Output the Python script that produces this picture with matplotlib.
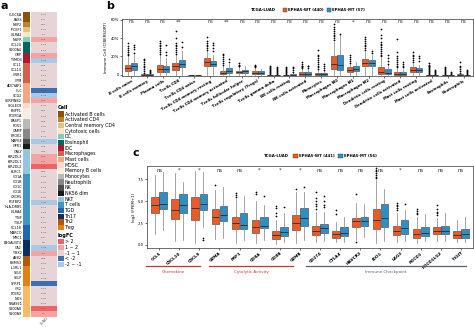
import numpy as np
import matplotlib
matplotlib.use("Agg")
import matplotlib.pyplot as plt
from matplotlib.patches import Rectangle
from matplotlib.transforms import blended_transform_factory

W, H = 474, 327
ORANGE = "#EC5B24"
BLUE = "#2E8FC4"

# ── panel a: marker genes, cell type and logFC ──────────────────────────────
genes = ["CLEC6A", "FAXS", "NUP2", "IPCEF1", "LILRA2", "NGFR", "CCL24", "S100A4",
         "GRP", "TIMD4", "CCL1", "CCL14", "CNR1", "CPM", "ADCYAP1", "CLC", "SCG2",
         "SERPINB2", "SIGLEC8", "ENPP1", "FCER1A", "BASP1", "FCN1", "CAMP", "PROK2",
         "MAPK4", "GPR1", "GNLY", "KIR2DL3", "KIR2DL1", "KIR2DL2", "KLRC1", "CD1A",
         "CD1B", "CD1C", "CD1E", "CXCR5", "FGFBP2", "HLA-DRB5", "LILRA4", "TNF",
         "TSLP", "CCL18", "MARCO", "MRC1", "B4GALNT4", "CA2", "YBX2", "ASB2", "RBMS3",
         "IL1RL1", "SELE", "SELP", "SFRP1", "CR2", "FCER2", "NOS", "RNASE1",
         "S100A8", "S100A9"]
gene_cell = (["Activated B cells"] * 2 + ["Activated CD4", "Central memory CD4",
             "Cytotoxic cells", "DC"] + ["Eosinophil"] * 2 + ["iDC"] * 2
             + ["Macrophages"] * 4 + ["Mast cells"] * 4 + ["MDSC"]
             + ["Memory B cells"] * 2 + ["Monocytes"] * 2 + ["Neutrophils"] * 2
             + ["NK", "NK56 dim"] + ["NKT"] * 5 + ["T cells"] * 10 + ["TGD"] * 3
             + ["Th17"] * 3 + ["Th2"] * 2 + ["Treg"] * 4 + ["Tem"] * 6)
logfc = [-0.76, -0.8, 0.81, -0.92, 0.9, 1.16, -0.94, -0.93, 1.36, -1.03,
         0.85, -0.74, -0.87, -0.95, 0.75, -2.35, -1.76, 1.92, -0.97, 0.81,
         -0.97, 0.85, -0.94, 0.92, -0.74, -1.2, 0.99, 0.89, 1.56, 1.51,
         2.18, 0.86, -0.86, -0.94, -0.94, -0.97, -0.93, -1.45, -0.77, -0.86,
         -0.8, -0.94, -0.86, -0.98, -0.8, 0.8, -1.03, 1.3, 0.88, -0.95,
         0.77, -0.71, -0.98, -2.74, -0.86, -0.86, -0.93, -0.93, 2.07, 1.2]

cell_types = ["Activated B cells", "Activated CD4", "Central memory CD4",
              "Cytotoxic cells", "DC", "Eosinophil", "iDC", "Macrophages",
              "Mast cells", "MDSC", "Memory B cells", "Monocytes", "Neutrophils",
              "NK", "NK56 dim", "NKT", "T cells", "TGD", "Th17", "Th2", "Treg"]
cell_colors = {"Activated B cells": "#8C510A", "Activated CD4": "#BF812D",
               "Central memory CD4": "#DFC27D", "Cytotoxic cells": "#F6E8C3",
               "DC": "#80CDC1", "Eosinophil": "#01665E", "iDC": "#B2182B",
               "Macrophages": "#D6604D", "Mast cells": "#F4A582",
               "MDSC": "#FDDBC7", "Memory B cells": "#FBEBE0",
               "Monocytes": "#BABABA", "Neutrophils": "#878787", "NK": "#4D4D4D",
               "NK56 dim": "#1A1A1A", "NKT": "#92C5DE", "T cells": "#4393C3",
               "TGD": "#2166AC", "Th17": "#053061", "Th2": "#B35806",
               "Treg": "#E08214", "Tem": "#FDB863"}
fc_bins = ["> 2", "1 ~ 2", "-1 ~ 1", "< -2", "-2 ~ -1"]
fc_colors = {"> 2": "#EE6464", "1 ~ 2": "#F4A3A3", "-1 ~ 1": "#E6D4D7",
             "< -2": "#3B6FB1", "-2 ~ -1": "#A9C8E6"}


def fc_bin(v):
    if v > 2:
        return "> 2"
    if v > 1:
        return "1 ~ 2"
    if v >= -1:
        return "-1 ~ 1"
    if v < -2:
        return "< -2"
    return "-2 ~ -1"


# ── panel b: CIBERSORT fractions (%) per group ──────────────────────────────
b_cells = ["B cells naive", "B cells memory", "Plasma cells", "T cells CD8",
           "T cells CD4 naive", "T cells CD4 memory resting",
           "T cells CD4 memory activated", "T cells follicular helper",
           "T cells regulatory (Tregs)", "T cells gamma delta", "NK cells resting",
           "NK cells activated", "Monocytes", "Macrophages M0", "Macrophages M1",
           "Macrophages M2", "Dendritic cells resting", "Dendritic cells activated",
           "Mast cells resting", "Mast cells activated", "Eosinophils", "Neutrophils"]
b_sig = ["ns", "ns", "ns", "**", "", "ns", "**", "ns", "ns", "ns", "ns",
         "ns", "ns", "ns", "*", "ns", "ns", "ns", "ns", "ns", "ns", "ns"]
b_wt_q1 = [4, 0, 3, 5, 0, 10, 0.5, 2, 1, 0, 0, 0, 0, 6, 3, 10, 1, 0, 3, 0, 0, 0]
b_wt_med = [7, 0, 6, 9, 0, 14, 2, 3, 2, 0, 0, 1, 0.5, 12, 5, 13, 3, 1, 5, 0, 0, 0]
b_wt_q3 = [11, 0.5, 11, 13, 0, 18, 4, 4.5, 3.5, 0, 0, 3, 2, 20, 8, 17, 8, 3, 8, 0, 0, 1]
b_wt_lo = [0] * 22
b_wt_hi = [20, 1, 22, 22, 0, 26, 10, 8, 7, 0, 0, 6, 5, 36, 12, 25, 18, 7, 12, 0, 0, 2]
b_wt_fl = [[21, 23, 25, 27, 29, 31, 35], [2, 4, 6, 8, 10, 12, 14, 16, 17],
           [23, 25, 27, 29, 31, 33, 35, 37], [23, 25, 27, 29, 31, 33, 35, 40, 48],
           [], [27, 29, 31, 33, 35, 37, 41], [11, 13, 15, 17, 19, 21, 23],
           [9, 10, 11, 13], [8, 9, 10, 11], [1, 2, 3, 4, 5, 6, 7, 8, 9],
           [1, 2, 3, 4, 5, 6, 7, 8], [7, 8, 9, 10, 12, 14],
           [6, 8, 10, 12, 14, 16, 18, 20, 22, 27],
           [38, 40, 42, 44, 46, 48, 50, 52, 56], [13, 15, 17, 19, 21],
           [27, 29, 31, 33, 35, 37, 39, 41],
           [20, 22, 24, 26, 28, 30, 32, 34, 36, 40, 44, 50],
           [8, 10, 12, 14, 16, 18, 20, 25, 39], [14, 16, 18, 20, 22, 25],
           [1, 2, 3, 4, 5, 6, 7, 8, 9, 10, 11, 13], [1, 2, 3, 4, 5, 6, 7, 8],
           [2, 4, 6, 8, 10, 14]]
b_mt_q1 = [5, 0, 3, 8, 0, 9, 2, 2, 1, 0, 0, 0, 0, 5, 4, 10, 0.5, 0, 3, 0, 0, 0]
b_mt_med = [9, 0, 6, 12, 0, 12, 4, 3.5, 2, 0, 0, 1, 0.5, 11, 6, 13, 2, 1, 5, 0, 0, 0]
b_mt_q3 = [13, 1, 10, 16, 0, 15, 7, 5, 3.5, 0, 1, 3, 2, 22, 10, 16, 6, 3, 7, 0, 0, 0]
b_mt_lo = [0] * 22
b_mt_hi = [22, 2, 18, 26, 0, 22, 12, 9, 6, 0, 2, 6, 4, 44, 14, 22, 11, 6, 11, 0, 0, 0]
b_mt_fl = [[24, 28, 30, 32], [2, 3, 4, 5], [21, 25, 32], [30, 36], [],
           [26, 29, 32, 35], [14, 17], [], [], [1, 2, 3, 4, 5, 6, 7, 8],
           [3, 5, 7, 8], [7, 9, 10], [5, 7, 9, 12], [45], [], [24, 26],
           [12, 15, 18, 22], [8, 10, 12, 14], [15, 18, 20], [1, 2, 3, 4, 5],
           [1, 2, 3], [1, 2, 3, 4, 5]]

# ── panel c: log2(FPKM+1) of immune genes ───────────────────────────────────
c_genes = ["CCL5", "CXCL10", "CXCL9", "GZMA", "PRF1", "CD8A", "CD8B", "GZMB",
           "CD274", "CTLA4", "HAVCR2", "IDO1", "LAG3", "PDCD1", "PDCD1LG2", "TIGIT"]
c_sig = ["ns", "*", "*", "ns", "ns", "*", "*", "*", "ns", "ns", "ns", "ns",
         "*", "ns", "ns", "ns"]
c_wt_q1 = [3.7, 3.0, 2.8, 2.4, 1.8, 1.4, 0.7, 1.7, 1.1, 0.8, 2.1, 1.8, 1.1, 0.8, 1.2, 0.8]
c_wt_med = [4.6, 4.0, 4.2, 3.2, 2.5, 2.1, 1.1, 2.5, 1.6, 1.3, 2.7, 2.8, 1.6, 1.2, 1.6, 1.1]
c_wt_q3 = [5.5, 5.3, 5.5, 4.1, 3.2, 2.9, 1.6, 3.4, 2.2, 1.6, 3.1, 4.1, 2.2, 1.8, 2.1, 1.6]
c_wt_lo = [1.2, 0.4, 0.2, 0.7, 0.2, 0.2, 0.1, 0.2, 0.3, 0.3, 0.6, 0.2, 0.3, 0.2, 0.4, 0.3]
c_wt_hi = [8.0, 8.2, 8.5, 6.3, 5.2, 5.0, 2.9, 6.0, 3.8, 2.6, 4.8, 7.4, 3.7, 3.2, 3.1, 2.9]
c_wt_fl = [[], [], [], [6.9], [5.5, 5.7, 5.9], [5.8, 6.1], [3.3, 3.6, 4.2, 4.5],
           [6.4], [4.1, 4.4, 4.7, 5.0, 5.4, 6.0], [3.5, 4.0], [0.3, 5.8],
           [7.6, 7.8, 8.0, 8.2, 8.4, 8.6, 8.8], [4.0, 4.2, 4.4, 4.6, 4.8],
           [3.5, 3.7, 3.9, 4.1], [3.4, 3.6, 3.8, 4.1, 4.6], []]
c_mt_q1 = [4.1, 3.7, 4.0, 2.7, 1.8, 1.9, 1.0, 2.2, 1.4, 1.0, 2.2, 2.0, 1.3, 1.0, 1.2, 0.8]
c_mt_med = [4.7, 4.6, 4.7, 3.4, 2.3, 2.2, 1.5, 3.1, 1.9, 1.4, 2.7, 3.1, 1.9, 1.4, 1.6, 1.2]
c_mt_q3 = [6.0, 5.8, 5.8, 4.4, 3.6, 3.2, 2.1, 4.2, 2.4, 2.1, 3.2, 4.7, 2.8, 2.0, 2.2, 1.8]
c_mt_lo = [1.7, 0.6, 2.0, 0.8, 0.6, 0.6, 0.3, 0.6, 0.4, 0.3, 0.9, 0.4, 0.5, 0.4, 0.5, 0.3]
c_mt_hi = [8.3, 7.2, 8.3, 6.6, 5.6, 4.6, 3.6, 6.0, 3.8, 3.2, 4.7, 6.4, 4.0, 3.5, 3.6, 3.2]
c_mt_fl = [[], [], [0.6, 0.75], [], [], [5.6], [4.3], [6.6], [4.3, 4.6, 5.0, 5.6],
           [], [], [], [4.7], [], [], []]

c_groups = ["Chemokine", "Cytolytic Activity", "Immune Checkpoint"]
c_group_span = [(0.35, 3.05), (3.5, 7.65), (8.3, 16.25)]
c_group_color = ["#C0392B", "#C0392B", "#5A6270"]


def px_axes(fig, x0, y0, x1, y1):
    return fig.add_axes([x0 / W, 1 - y1 / H, (x1 - x0) / W, (y1 - y0) / H])


def stats(q1, med, q3, lo, hi, fl):
    return [dict(q1=a, med=b, q3=c, whislo=d, whishi=e, fliers=f)
            for a, b, c, d, e, f in zip(q1, med, q3, lo, hi, fl)]


def draw_boxes(ax, st, pos, color, width):
    ax.bxp(st, positions=pos, widths=width, patch_artist=True, showcaps=False,
           boxprops=dict(facecolor=color, edgecolor="#3b3b3b", linewidth=0.4),
           medianprops=dict(color="#2a2a2a", linewidth=0.6),
           whiskerprops=dict(color="#8a8a8a", linewidth=0.55),
           flierprops=dict(marker="o", markersize=1.1, markerfacecolor="black",
                           markeredgecolor="black", markeredgewidth=0.1))


def style_axes(ax):
    for s in ax.spines.values():
        s.set_linewidth(0.5)
        s.set_color("#333333")
    ax.tick_params(length=1.3, width=0.4, pad=0.8, labelsize=2.7)


def group_legend(ov, x_title, x_wt, x_mt, y, wt_label, mt_label):
    ov.text(x_title, y, "TCGA-LUAD", fontsize=2.8, fontweight="bold", va="center")
    for xp, c, lab in [(x_wt, ORANGE, wt_label), (x_mt, BLUE, mt_label)]:
        ov.add_patch(Rectangle((xp, y - 2.2), 4.4, 4.4, facecolor=c,
                               edgecolor="#3b3b3b", linewidth=0.3))
        ov.text(xp + 5.8, y, lab, fontsize=2.8, fontweight="bold", va="center")


fig = plt.figure(figsize=(W / 100, H / 100), dpi=100)
ov = fig.add_axes([0, 0, 1, 1])
ov.set_xlim(0, W)
ov.set_ylim(H, 0)
ov.axis("off")

# panel a
ax_a = px_axes(fig, 22.7, 12, 56.7, 316.5)
rows = np.arange(len(genes)) + 0.5
ax_a.barh(rows, 7.3, left=0, height=1.0,
          color=[cell_colors[c] for c in gene_cell], linewidth=0)
ax_a.barh(rows, 26, left=8, height=1.0,
          color=[fc_colors[fc_bin(v)] for v in logfc], linewidth=0)
for y, g, v in zip(rows, genes, logfc):
    ax_a.text(-0.8, y, g, ha="right", va="center", fontsize=2.4)
    ax_a.text(21, y, f"{v:g}", ha="center", va="center", fontsize=1.7, color="#555555")
ax_a.set_xlim(0, 34)
ax_a.set_ylim(len(genes), 0)
ax_a.axis("off")
ov.text(44, 321, "LUAD", rotation=45, ha="center", va="center", fontsize=2.6,
        color="#555555")

ov.text(58, 107.5, "Cell", fontsize=3.6, fontweight="bold", va="center")
for i, ct in enumerate(cell_types):
    y = 114 + i * 5.68
    ov.add_patch(Rectangle((58.3, y - 2.7), 5.4, 5.4, facecolor=cell_colors[ct],
                           linewidth=0))
    ov.text(65, y, ct, fontsize=3.4, va="center")
ov.text(58, 235, "logFC", fontsize=3.6, fontweight="bold", va="center")
for i, lab in enumerate(fc_bins):
    y = 241.7 + i * 5.68
    ov.add_patch(Rectangle((58.3, y - 2.7), 5.4, 5.4, facecolor=fc_colors[lab],
                           linewidth=0))
    ov.text(65, y, lab, fontsize=3.4, va="center")

# panel b
ax_b = px_axes(fig, 121.7, 19, 473, 76)
xb = np.arange(1, len(b_cells) + 1)
draw_boxes(ax_b, stats(b_wt_q1, b_wt_med, b_wt_q3, b_wt_lo, b_wt_hi, b_wt_fl),
           xb - 0.2, ORANGE, 0.38)
draw_boxes(ax_b, stats(b_mt_q1, b_mt_med, b_mt_q3, b_mt_lo, b_mt_hi, b_mt_fl),
           xb + 0.2, BLUE, 0.38)
for x, s in zip(xb, b_sig):
    ax_b.text(x, 58, s, ha="center", va="center", fontsize=3.6 if s == "ns" else 4,
              color="#333333")
ax_b.set_xlim(0.4, len(b_cells) + 0.6)
ax_b.set_ylim(-1.5, 61)
ax_b.set_yticks([0, 20, 40, 60])
ax_b.set_yticklabels(["0", "20%", "40%", "60%"])
ax_b.set_xticks(xb)
ax_b.set_xticklabels(b_cells, rotation=30, ha="right", rotation_mode="anchor",
                     fontweight="bold")
ax_b.set_ylabel("Immune Cell (CIBERSORT)", fontsize=2.8, labelpad=1.5)
style_axes(ax_b)
group_legend(ov, 250.7, 282.7, 326.7, 10, "EPHA5-WT (440)", "EPHA5-MT (57)")

# panel c
ax_c = px_axes(fig, 147, 165.7, 473, 248.3)
xc = np.arange(1, len(c_genes) + 1)
draw_boxes(ax_c, stats(c_wt_q1, c_wt_med, c_wt_q3, c_wt_lo, c_wt_hi, c_wt_fl),
           xc - 0.2, ORANGE, 0.38)
draw_boxes(ax_c, stats(c_mt_q1, c_mt_med, c_mt_q3, c_mt_lo, c_mt_hi, c_mt_fl),
           xc + 0.2, BLUE, 0.38)
for x, s in zip(xc, c_sig):
    ax_c.text(x, 8.55, s, ha="center", va="center", fontsize=3.8 if s == "ns" else 4,
              color="#333333")
ax_c.set_xlim(0.4, len(c_genes) + 0.6)
ax_c.set_ylim(-0.38, 9.05)
ax_c.set_yticks([0, 2.5, 5.0, 7.5])
ax_c.set_yticklabels(["0.0", "2.5", "5.0", "7.5"])
ax_c.set_xticks(xc)
ax_c.set_xticklabels(c_genes, rotation=40, ha="right", rotation_mode="anchor",
                     fontweight="bold")
ax_c.tick_params(axis="x", labelsize=3.0)
ax_c.set_ylabel("log2 (FPKM+1)", fontsize=2.8, labelpad=1.5)
style_axes(ax_c)
ax_c.tick_params(axis="x", labelsize=3.0)
group_legend(ov, 264.3, 293.3, 338.3, 155.7, "EPHA5-WT (441)", "EPHA5-MT (56)")

trans = blended_transform_factory(ax_c.transData, ax_c.transAxes)
for name, (x0, x1), col in zip(c_groups, c_group_span, c_group_color):
    ax_c.plot([x0, x1], [-0.22, -0.22], color=col, linewidth=0.9,
              transform=trans, clip_on=False)
    ax_c.text((x0 + x1) / 2, -0.29, name, color=col, fontsize=3.0,
              ha="center", va="center", transform=trans)

# panel letters
ov.text(0.5, 6, "a", fontsize=8, fontweight="bold", va="center")
ov.text(106, 6, "b", fontsize=8, fontweight="bold", va="center")
ov.text(133, 153, "c", fontsize=8, fontweight="bold", va="center")

fig.savefig("out.png", dpi=100)
